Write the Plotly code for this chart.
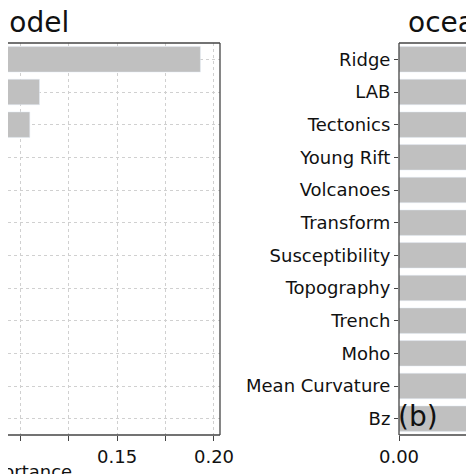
import plotly.graph_objects as go

# left panel: only the tail of the top bars is visible in the crop
left_features = ["F1", "F2", "F3", "F4", "F5", "F6", "F7", "F8", "F9", "F10", "F11", "F12"]
left_values = [0.193, 0.110, 0.105, 0.090, 0.085, 0.080, 0.075, 0.070, 0.065, 0.060, 0.055, 0.050]

ocean_features = ["Ridge", "LAB", "Tectonics", "Young Rift", "Volcanoes", "Transform",
                  "Susceptibility", "Topography", "Trench", "Moho", "Mean Curvature", "Bz"]
ocean_values = [0.16, 0.12, 0.10, 0.09, 0.08, 0.07, 0.06, 0.05, 0.04, 0.03, 0.0198, 0.0186]

W = H = 474
BAR = "#c0c0c0"
FONT = "DejaVu Sans"
y_top, y_bot = 1 - 35 / H, 1 - 427 / H
lx1 = 212 / W
rx0 = 391 / W

fig = go.Figure()
fig.add_trace(go.Bar(x=left_values, y=left_features, orientation="h", marker_color=BAR,
                     width=0.78, xaxis="x", yaxis="y"))
fig.add_trace(go.Bar(x=ocean_values, y=ocean_features, orientation="h", marker_color=BAR,
                     width=0.78, xaxis="x2", yaxis="y2"))

grid = dict(showgrid=True, gridcolor="#d0d0d0", griddash="dot", gridwidth=1,
            automargin=False, zeroline=False)
fig.update_layout(
    width=W, height=H, margin=dict(l=0, r=0, t=0, b=0, autoexpand=False),
    paper_bgcolor="white", plot_bgcolor="white", showlegend=False,
    font=dict(family=FONT, size=18, color="#111111"),
    xaxis=dict(domain=[0, lx1], range=[0.09375, 0.2031], tickvals=[0.10, 0.125, 0.15, 0.175, 0.20],
               ticktext=["0.10", "", "0.15", "", "0.20"], ticks="outside", ticklen=5,
               tickfont=dict(size=18), **grid),
    yaxis=dict(domain=[y_bot, y_top], autorange="reversed", showticklabels=False,
               ticks="", **grid),
    xaxis2=dict(domain=[rx0, 1], range=[0, 0.0213], tickvals=[0, 0.02], ticktext=["0.00", "0.02"],
                ticks="outside", ticklen=5, tickfont=dict(size=18), **grid),
    yaxis2=dict(domain=[y_bot, y_top], anchor="x2", autorange="reversed", ticks="outside",
                ticklen=4, tickfont=dict(size=18), **grid),
)

# frame lines
line = dict(color="#444444", width=1.3)
for x0, y0, x1, y1 in [(0, y_top, lx1, y_top), (0, y_bot, lx1, y_bot), (lx1, y_bot, lx1, y_top),
                       (rx0, y_top, 1, y_top), (rx0, y_bot, 1, y_bot), (rx0, y_bot, rx0, y_top)]:
    fig.add_shape(type="line", xref="paper", yref="paper", x0=x0, y0=y0, x1=x1, y1=y1, line=line)

fig.add_annotation(xref="paper", yref="paper", x=63 / W, y=1 - 15 / H, text="model",
                   showarrow=False, xanchor="right", yanchor="middle", font=dict(size=28))
fig.add_annotation(xref="paper", yref="paper", x=398 / W, y=1 - 15 / H, text="oceanic",
                   showarrow=False, xanchor="left", yanchor="middle", font=dict(size=28))
fig.add_annotation(xref="paper", yref="paper", x=66 / W, y=1 - 463 / H, text="Importance",
                   showarrow=False, xanchor="right", yanchor="middle", font=dict(size=18))
fig.add_annotation(xref="paper", yref="paper", x=150 / W, y=1 - 408 / H, text="(b)",
                   showarrow=False, xanchor="left", yanchor="middle", font=dict(size=28))
fig.layout.annotations[-1].x = 151 / W + 0.5

fig.write_html("out.html")
